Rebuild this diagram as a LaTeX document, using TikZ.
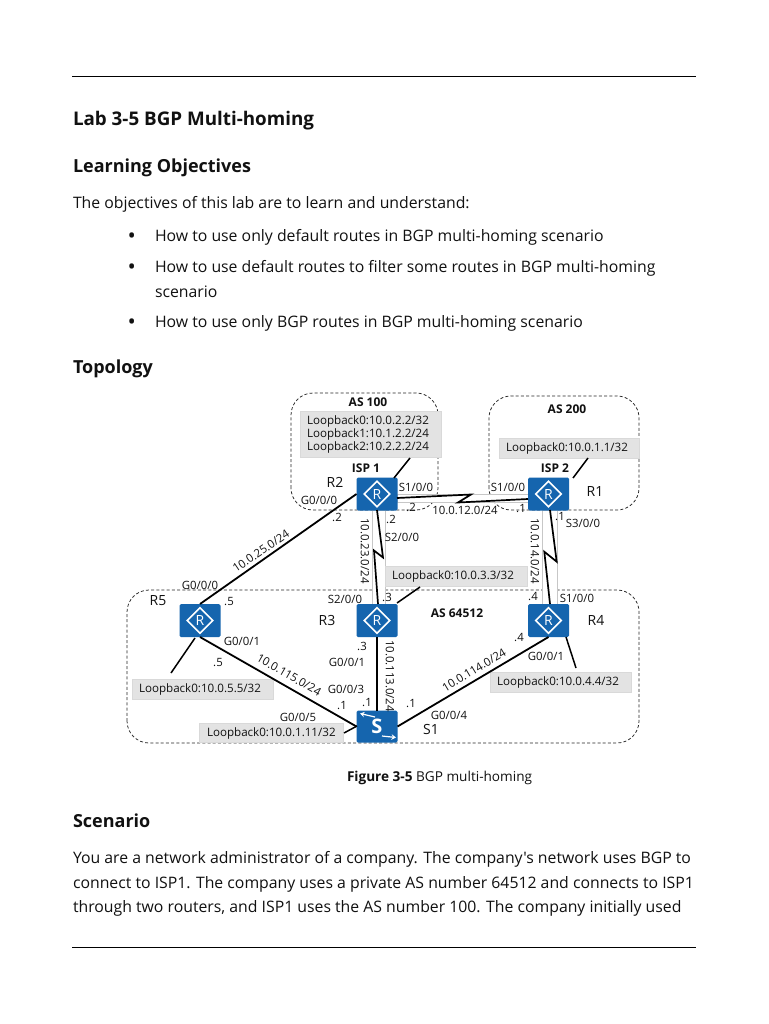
\documentclass[tikz,border=0pt]{standalone}
\usepackage{fontspec}
\setmainfont[Ligatures=TeXOff]{Open Sans}
\usetikzlibrary{shapes.geometric}
\definecolor{hwblue}{HTML}{1565AE}
\definecolor{boxgrey}{HTML}{E3E3E3}
\definecolor{inkc}{HTML}{111111}
\tikzset{
  x=1pt,y=-1pt,
  every node/.style={inner sep=0pt,outer sep=0pt,text=inkc},
  body/.style={anchor=base west,font=\fontsize{15.8}{18}\selectfont},
  dot/.style={anchor=base west,font=\fontsize{22}{22}\selectfont},
  head/.style={anchor=base west,font=\fontsize{18}{20}\selectfont\bfseries},
  rule/.style={line width=0.8pt,black},
  region/.style={draw=black!85,line width=0.75pt,rounded corners=22pt,dash pattern=on 3pt off 2.2pt},
  device/.style={fill=hwblue,rounded corners=1.5pt,minimum width=41pt,minimum height=33pt},
  rmark/.style={diamond,draw=white,line width=1.5pt,minimum width=25.5pt,minimum height=25.5pt,text=white,font=\fontsize{14}{14}\selectfont,aspect=1},
  lo/.style={fill=boxgrey,draw=black!15,line width=0.4pt,font=\fontsize{11.6}{13}\selectfont,align=left},
  lab/.style={font=\fontsize{11.4}{13}\selectfont},
  dev/.style={font=\fontsize{14}{16}\selectfont},
  asn/.style={font=\fontsize{12}{14}\selectfont\bfseries},
  plain link/.style={line width=1.8pt,black},
  thin link/.style={line width=1.5pt,black},
  serial band/.style={draw=black!22,line width=0.9pt,fill=white},
  serial line/.style={line width=1.7pt,black,line join=miter},
  sarrow/.style={white,line width=1.2pt,-{Stealth[length=4.5pt,width=5.5pt]}},
}
\usetikzlibrary{arrows.meta}
\begin{document}
\begin{tikzpicture}
\useasboundingbox (0,0) rectangle (768,1024);
\fill[white] (0,0) rectangle (768,1024);
\draw[rule] (72,76) -- (696,76);
\draw[rule] (72,947) -- (696,947);

\node[head,font=\fontsize{18.8}{20}\selectfont\bfseries] (t1) at (73,126) {Lab 3-5 BGP Multi-homing};
\node[head] (t2) at (73,173) {Learning Objectives};
\node[body] (p1) at (73,209) {The objectives of this lab are to learn and understand:};
\node[dot] (b1d) at (127.5,243.5) {•};
\node[body] (b1) at (155,241.5) {How to use only default routes in BGP multi-homing scenario};
\node[dot] (b2d) at (127.5,274.5) {•};
\node[body] (b2) at (155,272.5) {How to use default routes to filter some routes in BGP multi-homing};
\node[body] (b2b) at (155,297) {scenario};
\node[dot] (b3d) at (127.5,329.5) {•};
\node[body] (b3) at (155,327.5) {How to use only BGP routes in BGP multi-homing scenario};
\node[head] (t3) at (73,373) {Topology};
\node[head] (t4) at (73,827) {Scenario};
\node[body] (s1t) at (73,863) {You are a network administrator of a company. The company's network uses BGP to};
\node[body] (s2t) at (73,888) {connect to ISP1. The company uses a private AS number 64512 and connects to ISP1};
\node[body] (s3t) at (73,912.5) {through two routers, and ISP1 uses the AS number 100. The company initially used};
\node[anchor=base west,font=\fontsize{13.6}{15}\selectfont] (cap) at (347,781) {\textbf{Figure 3-5} BGP multi-homing};

% regions
\draw[region] (291,510) rectangle (438,393);
\draw[region] (489,510) rectangle (639,396);
\draw[region] (127,743) rectangle (639,590);

% serial bands
\draw[serial band] (397,494) rectangle (528,502);
\draw[serial band] (372,510) rectangle (385,604);
\draw[serial band] (542.5,510) rectangle (557,604);

% devices
\node[device] (R2) at (377,494) {};
\node[device] (R1) at (548.5,494) {};
\node[device] (R5) at (200,620.5) {};
\node[device] (R3) at (377,620.5) {};
\node[device] (R4) at (548.5,620.5) {};
\node[device,minimum height=32pt] (S1) at (377,726.5) {};

% loopback boxes
\node[lo,minimum width=141pt,minimum height=46pt,text width=127pt] (L2) at (370.5,434) {Loopback0:10.0.2.2/32\\Loopback1:10.1.2.2/24\\Loopback2:10.2.2.2/24};
\node[lo,minimum width=140pt,minimum height=20pt,text width=126pt] (L1) at (569,448) {Loopback0:10.0.1.1/32};
\node[lo,minimum width=142pt,minimum height=20pt,text width=128pt] (L3) at (456,576) {Loopback0:10.0.3.3/32};
\node[lo,minimum width=141pt,minimum height=20pt,text width=127pt] (L5) at (202.5,689) {Loopback0:10.0.5.5/32};
\node[lo,minimum width=144pt,minimum height=19pt,text width=128pt] (L11) at (271,733) {Loopback0:10.0.1.11/32};
\node[lo,minimum width=141pt,minimum height=20pt,text width=127pt] (L4) at (560.5,682) {Loopback0:10.0.4.4/32};

% plain links
\draw[plain link] (R2.west) -- (R5.north);
\draw[plain link] (R5.south) -- (S1.west);
\draw[plain link] (R3.south) -- (S1.north);
\draw[plain link] (S1.east) -- (R4.south);
\coordinate (c2) at (394,478); \coordinate (c2b) at (410,458);
\draw[thin link] (c2) -- (c2b);
\coordinate (c1) at (573,478); \coordinate (c1b) at (588,458);
\draw[thin link] (c1) -- (c1b);
\coordinate (c3) at (397,603); \coordinate (c3b) at (420,587);
\draw[thin link] (c3) -- (c3b);
\coordinate (c5) at (195,638); \coordinate (c5b) at (171,673);
\draw[thin link] (c5) -- (c5b);
\coordinate (c4) at (566,637); \coordinate (c4b) at (576,668);
\draw[thin link] (c4) -- (c4b);
\coordinate (c11) at (357,726); \coordinate (c11b) at (344,733);
\draw[thin link] (c11) -- (c11b);

% serial links
\coordinate (a1) at (397,498);
\coordinate (a2) at (528,499);
\draw[serial line] (a1) -- (471,494.5) -- (458,502.5) -- (a2);
\coordinate (b1l) at (377,510);
\coordinate (b2l) at (378,604);
\draw[serial line] (b1l) -- (383,557.5) -- (374,550.5) -- (b2l);
\coordinate (d1) at (550,510);
\coordinate (d2) at (550,604);
\draw[serial line] (d1) -- (556.7,561.7) -- (544.3,551.7) -- (d2);

% icons
\node[rmark] (R2m) at (R2) {R};
\node[rmark] (R1m) at (R1) {R};
\node[rmark] (R5m) at (R5) {R};
\node[rmark] (R3m) at (R3) {R};
\node[rmark] (R4m) at (R4) {R};
\node[font=\fontsize{20}{20}\selectfont\bfseries,text=white] (S1m) at (377,726) {S};
\coordinate (sa1) at (375,717); \coordinate (sa2) at (360,713.5);
\draw[sarrow] (sa1) -- (sa2);
\coordinate (sb1) at (382,736); \coordinate (sb2) at (396,737.5);
\draw[sarrow] (sb1) -- (sb2);

% device names
\node[dev] (nR2) at (335,482) {R2};
\node[dev] (nR1) at (595,491) {R1};
\node[dev] (nR5) at (158,601) {R5};
\node[dev] (nR3) at (327,620) {R3};
\node[dev] (nR4) at (596,620) {R4};
\node[dev] (nS1) at (431,729) {S1};
\node[asn] (isp1) at (366,468) {ISP 1};
\node[asn] (isp2) at (555,468) {ISP 2};
\node[asn] (as1) at (368,402) {AS 100};
\node[asn] (as2) at (567,409) {AS 200};
\node[asn] (as3) at (457,613) {AS 64512};

% interface labels
\node[lab] (i1) at (416,487) {S1/0/0};
\node[lab] (i2) at (508,487) {S1/0/0};
\node[lab] (i3) at (319,500) {G0/0/0};
\node[lab] (i4) at (411,507) {.2};
\node[lab] (i5) at (465,510) {10.0.12.0/24};
\node[lab] (i6) at (521,509) {.1};
\node[lab] (i7) at (337,517) {.2};
\node[lab] (i8) at (391,519) {.2};
\node[lab] (i9) at (560,517) {.1};
\node[lab] (i10) at (583,523) {S3/0/0};
\node[lab] (i11) at (402,537) {S2/0/0};
\node[lab,rotate=-90] (i12) at (365,551) {10.0.23.0/24};
\node[lab,rotate=-90] (i13) at (535,551) {10.0.14.0/24};
\node[lab,rotate=34] (i14) at (261,551) {10.0.25.0/24};
\node[lab] (i15) at (200,585) {G0/0/0};
\node[lab] (i16) at (229,602) {.5};
\node[lab] (i17) at (345,599) {S2/0/0};
\node[lab] (i18) at (387,597) {.3};
\node[lab] (i19) at (533,596) {.4};
\node[lab] (i20) at (577,598) {S1/0/0};
\node[lab] (i21) at (242,641) {G0/0/1};
\node[lab] (i22) at (218,663) {.5};
\node[lab] (i23) at (362,646) {.3};
\node[lab] (i24) at (347,662) {G0/0/1};
\node[lab,rotate=-90] (i25) at (390,676) {10.0.113.0/24};
\node[lab,rotate=-30] (i26) at (289,675) {10.0.115.0/24};
\node[lab,rotate=31] (i27) at (474,670) {10.0.114.0/24};
\node[lab] (i28) at (346,689) {G0/0/3};
\node[lab] (i29) at (342,706) {.1};
\node[lab] (i30) at (367,703) {.1};
\node[lab] (i31) at (411,704) {.1};
\node[lab] (i32) at (298,717) {G0/0/5};
\node[lab] (i33) at (449,715) {G0/0/4};
\node[lab] (i34) at (519,637) {.4};
\node[lab] (i35) at (546,656) {G0/0/1};
\end{tikzpicture}
\end{document}
